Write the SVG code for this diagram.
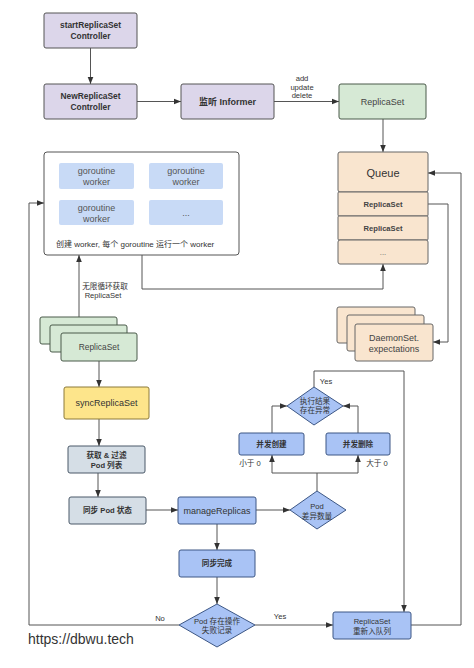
<svg xmlns="http://www.w3.org/2000/svg" width="474" height="668" viewBox="0 0 474 668">
<defs>
<marker id="ah" viewBox="0 0 10 10" refX="10" refY="5" markerWidth="7" markerHeight="7" orient="auto" markerUnits="userSpaceOnUse">
<path d="M0,1 L10,5 L0,9 Z" fill="#333"/>
</marker>
<style>
text{font-family:"Liberation Sans","Noto Sans CJK SC",sans-serif;fill:#333;text-anchor:middle}
.b{font-size:8.4px;font-weight:bold}
.s{font-size:7.6px}
.purple{fill:#dcd6ea;stroke:#555;stroke-width:1}
.green{fill:#d6e9d5;stroke:#4a5a4a;stroke-width:1}
.orange{fill:#f9e5cf;stroke:#666;stroke-width:1}
.cell{fill:#c8daf6}
.blue{fill:#a9c3f5;stroke:#3d5785;stroke-width:1}
.yellow{fill:#fde58b;stroke:#8c7a3a;stroke-width:1}
.gray{fill:#d5dee6;stroke:#4a5968;stroke-width:1}
.c{fill:none;stroke:#555;stroke-width:1}
.w{font-size:9px;fill:#555}
</style>
</defs>
<rect width="474" height="668" fill="#fff"/>

<g id="connectors">
<path class="c" d="M90.5,48 V84" marker-end="url(#ah)"/>
<path class="c" d="M137,101.5 H181" marker-end="url(#ah)"/>
<path class="c" d="M274,101.5 H339" marker-end="url(#ah)"/>
<path class="c" d="M383,119 V152" marker-end="url(#ah)"/>
<path class="c" d="M142,255 V289 H383 V264" marker-end="url(#ah)"/>
<path class="c" d="M428,204 H448 V342 H433" marker-end="url(#ah)"/>
<path class="c" d="M79,317 V255" marker-end="url(#ah)"/>
<path class="c" d="M99,361 V387" marker-end="url(#ah)"/>
<path class="c" d="M99,419 V446" marker-end="url(#ah)"/>
<path class="c" d="M98,473 V497" marker-end="url(#ah)"/>
<path class="c" d="M146,510 H178" marker-end="url(#ah)"/>
<path class="c" d="M256,510 H290" marker-end="url(#ah)"/>
<path class="c" d="M317,491 V473 M272,473 H358"/>
<path class="c" d="M272,473 V455" marker-end="url(#ah)"/>
<path class="c" d="M358,473 V455" marker-end="url(#ah)"/>
<path class="c" d="M272,433 V406 H287" marker-end="url(#ah)"/>
<path class="c" d="M358,433 V406 H343" marker-end="url(#ah)"/>
<path class="c" d="M314,387 V371 H404 V612" marker-end="url(#ah)"/>
<path class="c" d="M217,524 V550" marker-end="url(#ah)"/>
<path class="c" d="M217,577 V604" marker-end="url(#ah)"/>
<path class="c" d="M179,625 H29 V203 H44" marker-end="url(#ah)"/>
<path class="c" d="M255,625 H333" marker-end="url(#ah)"/>
<path class="c" d="M411,625 H461 V173 H428" marker-end="url(#ah)"/>
<text class="s" x="302" y="81">add</text>
<text class="s" x="302" y="89.5">update</text>
<text class="s" x="302" y="98">delete</text>
<text class="s" x="105" y="289">无限循环获取</text>
<text class="s" x="103" y="298">ReplicaSet</text>
<text class="s" x="326" y="384">Yes</text>
<text class="s" x="250" y="466">小于 0</text>
<text class="s" x="377" y="466">大于 0</text>
<text class="s" x="160" y="621">No</text>
<text class="s" x="280" y="619">Yes</text>
</g>

<g id="startReplicaSet">
<rect class="purple" x="44" y="13" width="93" height="35" rx="2"/>
<text class="b" x="90.5" y="28">startReplicaSet</text>
<text class="b" x="90.5" y="38.5">Controller</text>
</g>
<g id="newReplicaSet">
<rect class="purple" x="44" y="84" width="93" height="35" rx="2"/>
<text class="b" x="90.5" y="99">NewReplicaSet</text>
<text class="b" x="90.5" y="109.5">Controller</text>
</g>
<g id="informer">
<rect class="purple" x="181" y="84" width="93" height="35" rx="2"/>
<text class="b" x="227.5" y="105" style="font-size:9px">监听 Informer</text>
</g>
<g id="replicaSet">
<rect class="green" x="339" y="84" width="87" height="35" rx="2"/>
<text x="382.5" y="105" style="font-size:9px;fill:#444">ReplicaSet</text>
</g>

<g id="workers">
<rect x="44" y="152" width="195" height="103" rx="3" fill="#fff" stroke="#555"/>
<rect class="cell" x="59" y="163" width="75" height="26" rx="2"/>
<text class="w" x="96.5" y="174">goroutine</text>
<text class="w" x="96.5" y="184.5">worker</text>
<rect class="cell" x="149" y="163" width="74" height="26" rx="2"/>
<text class="w" x="186" y="174">goroutine</text>
<text class="w" x="186" y="184.5">worker</text>
<rect class="cell" x="59" y="200" width="75" height="25" rx="2"/>
<text class="w" x="96.5" y="211">goroutine</text>
<text class="w" x="96.5" y="221.5">worker</text>
<rect class="cell" x="149" y="200" width="74" height="25" rx="2"/>
<text class="w" x="186" y="216">...</text>
<text x="56" y="247" style="font-size:8px;text-anchor:start;fill:#333">创建 worker, 每个 goroutine 运行一个 worker</text>
</g>

<g id="queue">
<rect class="orange" x="338" y="152" width="90" height="40" rx="2"/>
<text x="383" y="177" style="font-size:11px">Queue</text>
<rect class="orange" x="338" y="192" width="90" height="24" rx="1"/>
<text class="s" x="383" y="207" style="font-weight:bold;fill:#444">ReplicaSet</text>
<rect class="orange" x="338" y="216" width="90" height="24" rx="1"/>
<text class="s" x="383" y="231" style="font-weight:bold;fill:#444">ReplicaSet</text>
<rect class="orange" x="338" y="240" width="90" height="24" rx="2"/>
<text class="s" x="383" y="255" style="fill:#666">...</text>
</g>

<g id="replicaSetStack">
<rect class="green" x="40" y="317" width="77" height="27" rx="2"/>
<rect class="green" x="50" y="325" width="77" height="27" rx="2"/>
<rect class="green" x="61" y="333" width="76" height="28" rx="2"/>
<text class="b" x="99" y="350" style="font-weight:normal;fill:#444">ReplicaSet</text>
</g>

<g id="daemonSetExpectations">
<rect class="orange" x="337" y="307" width="78" height="36" rx="2"/>
<rect class="orange" x="347" y="315" width="77" height="36" rx="2"/>
<rect class="orange" x="355" y="324" width="78" height="37" rx="2"/>
<text x="394" y="341" style="font-size:9px;fill:#444">DaemonSet.</text>
<text x="394" y="351.5" style="font-size:9px;fill:#444">expectations</text>
</g>

<g id="syncReplicaSet">
<rect class="yellow" x="64" y="387" width="85" height="32" rx="2"/>
<text x="106.5" y="406" style="font-size:9px">syncReplicaSet</text>
</g>
<g id="getFilterPods">
<rect class="gray" x="68" y="446" width="77" height="27" rx="2"/>
<text class="s" x="106.5" y="458" style="font-weight:bold">获取 &amp; 过滤</text>
<text class="s" x="106.5" y="467.5" style="font-weight:bold">Pod 列表</text>
</g>
<g id="syncPodStatus">
<rect class="gray" x="69" y="497" width="77" height="27" rx="2"/>
<text class="s" x="107.5" y="513" style="font-weight:bold">同步 Pod 状态</text>
</g>
<g id="manageReplicas">
<rect class="blue" x="178" y="497" width="78" height="27" rx="2"/>
<text x="217" y="513.5" style="font-size:9px">manageReplicas</text>
</g>
<g id="podDiff">
<polygon class="blue" points="317,491 346,510 317,529 290,510"/>
<text class="s" x="317" y="509">Pod</text>
<text class="s" x="317" y="518.5">差异数量</text>
</g>
<g id="concurrentCreate">
<rect class="blue" x="239" y="433" width="65" height="22" rx="2"/>
<text class="s" x="271.5" y="447" style="font-weight:bold">并发创建</text>
</g>
<g id="concurrentDelete">
<rect class="blue" x="326" y="433" width="64" height="22" rx="2"/>
<text class="s" x="358" y="447" style="font-weight:bold">并发删除</text>
</g>
<g id="execResult">
<polygon class="blue" points="314,387 343,406 314,425 287,406"/>
<text class="s" x="315" y="404">执行结果</text>
<text class="s" x="315" y="413">存在异常</text>
</g>
<g id="syncDone">
<rect class="blue" x="179" y="550" width="76" height="27" rx="2"/>
<text class="s" x="217" y="566" style="font-weight:bold">同步完成</text>
</g>
<g id="podFailRecord">
<polygon class="blue" points="217,604 255,625 217,647 179,625"/>
<text class="s" x="217" y="623.5">Pod 存在操作</text>
<text class="s" x="217" y="632.5">失败记录</text>
</g>
<g id="requeue">
<rect class="blue" x="333" y="612" width="78" height="27" rx="2"/>
<text class="s" x="372" y="624">ReplicaSet</text>
<text class="s" x="372" y="633.5">重新入队列</text>
</g>

<text x="28" y="644" style="font-size:14px;text-anchor:start;fill:#333">https://dbwu.tech</text>
</svg>
